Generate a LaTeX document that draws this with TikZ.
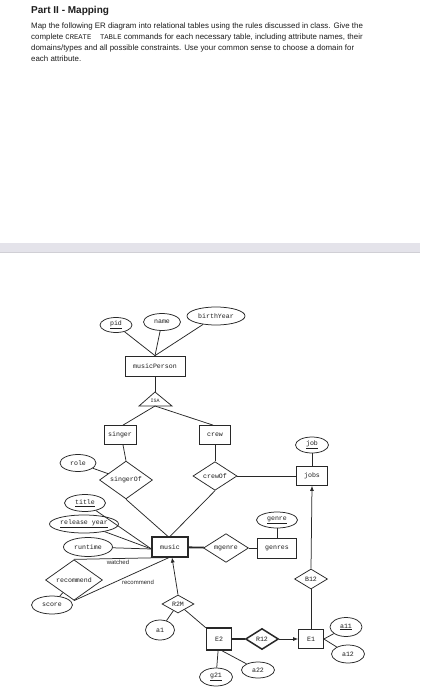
\documentclass[tikz,border=0pt]{standalone}
\usepackage{fontspec}
\setmainfont{Liberation Sans}
\newfontfamily\erfont{Liberation Mono}
\usetikzlibrary{shapes.geometric,arrows.meta}
\definecolor{ln}{RGB}{40,40,40}
\definecolor{barc}{RGB}{228,227,234}
\definecolor{txt}{RGB}{30,30,30}
\begin{document}
\begin{tikzpicture}[x=1pt,y=-1pt,
  every node/.style={inner sep=0pt, text=txt},
  erf/.style={font=\erfont\fontsize{6.6}{7}\selectfont},
  attr/.style={erf, draw=ln, ellipse, line width=0.75pt},
  ent/.style={erf, draw=ln, rectangle, line width=0.75pt},
  rel/.style={erf, draw=ln, diamond, line width=0.75pt},
  conn/.style={draw=ln, line width=0.75pt},
  thickconn/.style={draw=ln, line width=1.8pt},
  arr/.style={conn, -{Latex[length=5pt,width=4pt]}},
  lbl/.style={font=\fontsize{6}{6.5}\selectfont, text=ln},
  para/.style={anchor=base west, font=\fontsize{7.9}{8.5}\selectfont}
]
\useasboundingbox (0,0) rectangle (420,700);
\fill[white] (0,0) rectangle (420,700);

% header
\node[anchor=base west, font=\bfseries\fontsize{10}{12}\selectfont] (head) at (31,13.5) {Part II - Mapping};
\node[para] (p1) at (31,29) {Map the following ER diagram into relational tables using the rules discussed in class. Give the};
\node[para] (p2) at (31,40) {complete {\erfont\fontsize{7.2}{7.5}\selectfont CREATE\ \ TABLE} commands for each necessary table, including attribute names, their};
\node[para] (p3) at (31,51) {domains/types and all possible constraints. Use your common sense to choose a domain for};
\node[para] (p4) at (31,62) {each attribute.};

% gray bar
\fill[barc] (0,243) rectangle (420,253);
\draw[color=barc!80!gray, line width=0.6pt] (0,252.5) -- (420,252.5);

% attributes & entities
\node[attr, minimum width=32pt, minimum height=15pt] (pid) at (116,325) {\underline{pid}};
\node[attr, minimum width=37pt, minimum height=17pt] (name) at (162,322) {name};
\node[attr, minimum width=58pt, minimum height=18pt] (by) at (216,316) {birthYear};
\node[ent, minimum width=60pt, minimum height=20pt] (mp) at (155,366) {musicPerson};

% ISA triangle
\coordinate (isatop) at (155,392);
\coordinate (isabl) at (139,406);
\coordinate (isabr) at (172,406);
\coordinate (isab) at (155,406);
\draw[conn, line join=miter] (isatop) -- (isabl) -- (isabr) -- cycle;
\node[font=\erfont\fontsize{5}{5.5}\selectfont] (isa) at (155,401) {ISA};

\node[ent, minimum width=32pt, minimum height=19pt] (singer) at (120,435) {singer};
\node[ent, minimum width=31pt, minimum height=19pt] (crew) at (215,435) {crew};
\node[attr, minimum width=36pt, minimum height=17pt] (role) at (78,463) {role};
\node[rel, minimum width=53pt, minimum height=30pt] (singerOf) at (126,480) {singerOf};
\node[rel, minimum width=44pt, minimum height=27pt] (crewOf) at (215,476) {crewOf};
\node[attr, minimum width=33pt, minimum height=16pt] (job) at (312,445) {\underline{job}};
\node[ent, minimum width=31pt, minimum height=19pt] (jobs) at (312,476) {jobs};
\node[attr, minimum width=41pt, minimum height=16pt] (genre) at (277,520) {\underline{genre}};
\node[ent, minimum width=39pt, minimum height=20pt] (genres) at (277,548) {genres};
\node[rel, minimum width=45pt, minimum height=27pt] (mgenre) at (226,548) {mgenre};
\node[ent, minimum width=36pt, minimum height=20pt, line width=1.1pt] (music) at (170,547) {music};
\node[attr, minimum width=41pt, minimum height=17pt] (title) at (85,503) {\underline{title}};
\node[attr, minimum width=69pt, minimum height=18pt] (ry) at (84,524) {\underline{release year}};
\node[attr, minimum width=49pt, minimum height=19pt] (runtime) at (88,547) {runtime};
\node[rel, minimum width=57pt, minimum height=34pt] (rec) at (74,580) {recommend};
\node[attr, minimum width=41pt, minimum height=18pt] (score) at (52,605) {score};
\node[rel, minimum width=32pt, minimum height=18pt] (r2m) at (178,604) {R2M};
\node[attr, minimum width=29pt, minimum height=20pt] (a1) at (160,630) {a1};
\node[ent, minimum width=25pt, minimum height=22pt, line width=1.5pt] (e2) at (219,639) {E2};
\node[rel, minimum width=33pt, minimum height=21pt, line width=1.5pt] (r12) at (262,639) {R12};
\node[ent, minimum width=25pt, minimum height=19pt] (e1) at (311,639) {E1};
\node[rel, minimum width=33pt, minimum height=20pt] (b12) at (311,579) {B12};
\node[attr, minimum width=32pt, minimum height=19pt] (a11) at (346,627) {\underline{a11}};
\node[attr, minimum width=33pt, minimum height=18pt] (a12) at (348,654) {a12};
\node[attr, minimum width=33pt, minimum height=18pt] (g21) at (216,677) {\underline{g21}};
\node[attr, minimum width=33pt, minimum height=16pt] (a22) at (258,670) {a22};

% connectors
\draw[conn] (pid) -- (mp.north);
\draw[conn] (name) -- (mp.north);
\draw[conn] (by) -- (mp.north);
\draw[conn] (mp.south) -- (isatop);
\draw[conn] (isab) -- ([xshift=3pt]singer.north);
\draw[conn] (isab) -- ([xshift=-2pt]crew.north);
\draw[conn] ([xshift=3pt]singer.south) -- (singerOf.north);
\draw[conn] (role) -- (singerOf);
\draw[conn] (crew) -- (crewOf);
\draw[conn] (crewOf) -- (jobs);
\draw[conn] (job) -- (jobs);
\draw[conn] (singerOf.south) -- ([xshift=-2pt]music.north);
\draw[conn] (crewOf.south) -- ([xshift=0pt]music.north);
\draw[thickconn] (music) -- (mgenre);
\draw[conn] (mgenre) -- (genres);
\draw[conn] (genre) -- (genres);
\draw[conn] (title) -- ([yshift=-2pt]music.west);
\draw[conn] (ry) -- ([yshift=-2pt]music.west);
\draw[conn] (runtime) -- ([yshift=-2pt]music.west);
\draw[conn] (rec.north) -- ([xshift=-3pt]music.south);
\node[lbl] (lw) at (118,562.5) {watched};
\draw[conn] (rec.south) -- ([xshift=-1pt]music.south);
\node[lbl] (lr) at (138,582) {recommend};
\draw[conn] (rec) -- (score);
\draw[arr] (r2m.north) -- ([xshift=2pt]music.south);
\draw[conn] (r2m) -- (a1);
\draw[conn] (r2m) -- (e2);
\draw[thickconn] (e2) -- (r12);
\draw[arr] (r12) -- (e1);
\draw[conn] (e1) -- (b12);
\draw[arr] (b12.north) -- (jobs.south);
\draw[conn] (e1.east) -- (a11);
\draw[conn] (e1.east) -- (a12);
\draw[conn] (e2) -- (g21);
\draw[conn] ([xshift=3pt]e2.south) -- (a22);
\end{tikzpicture}
\end{document}
